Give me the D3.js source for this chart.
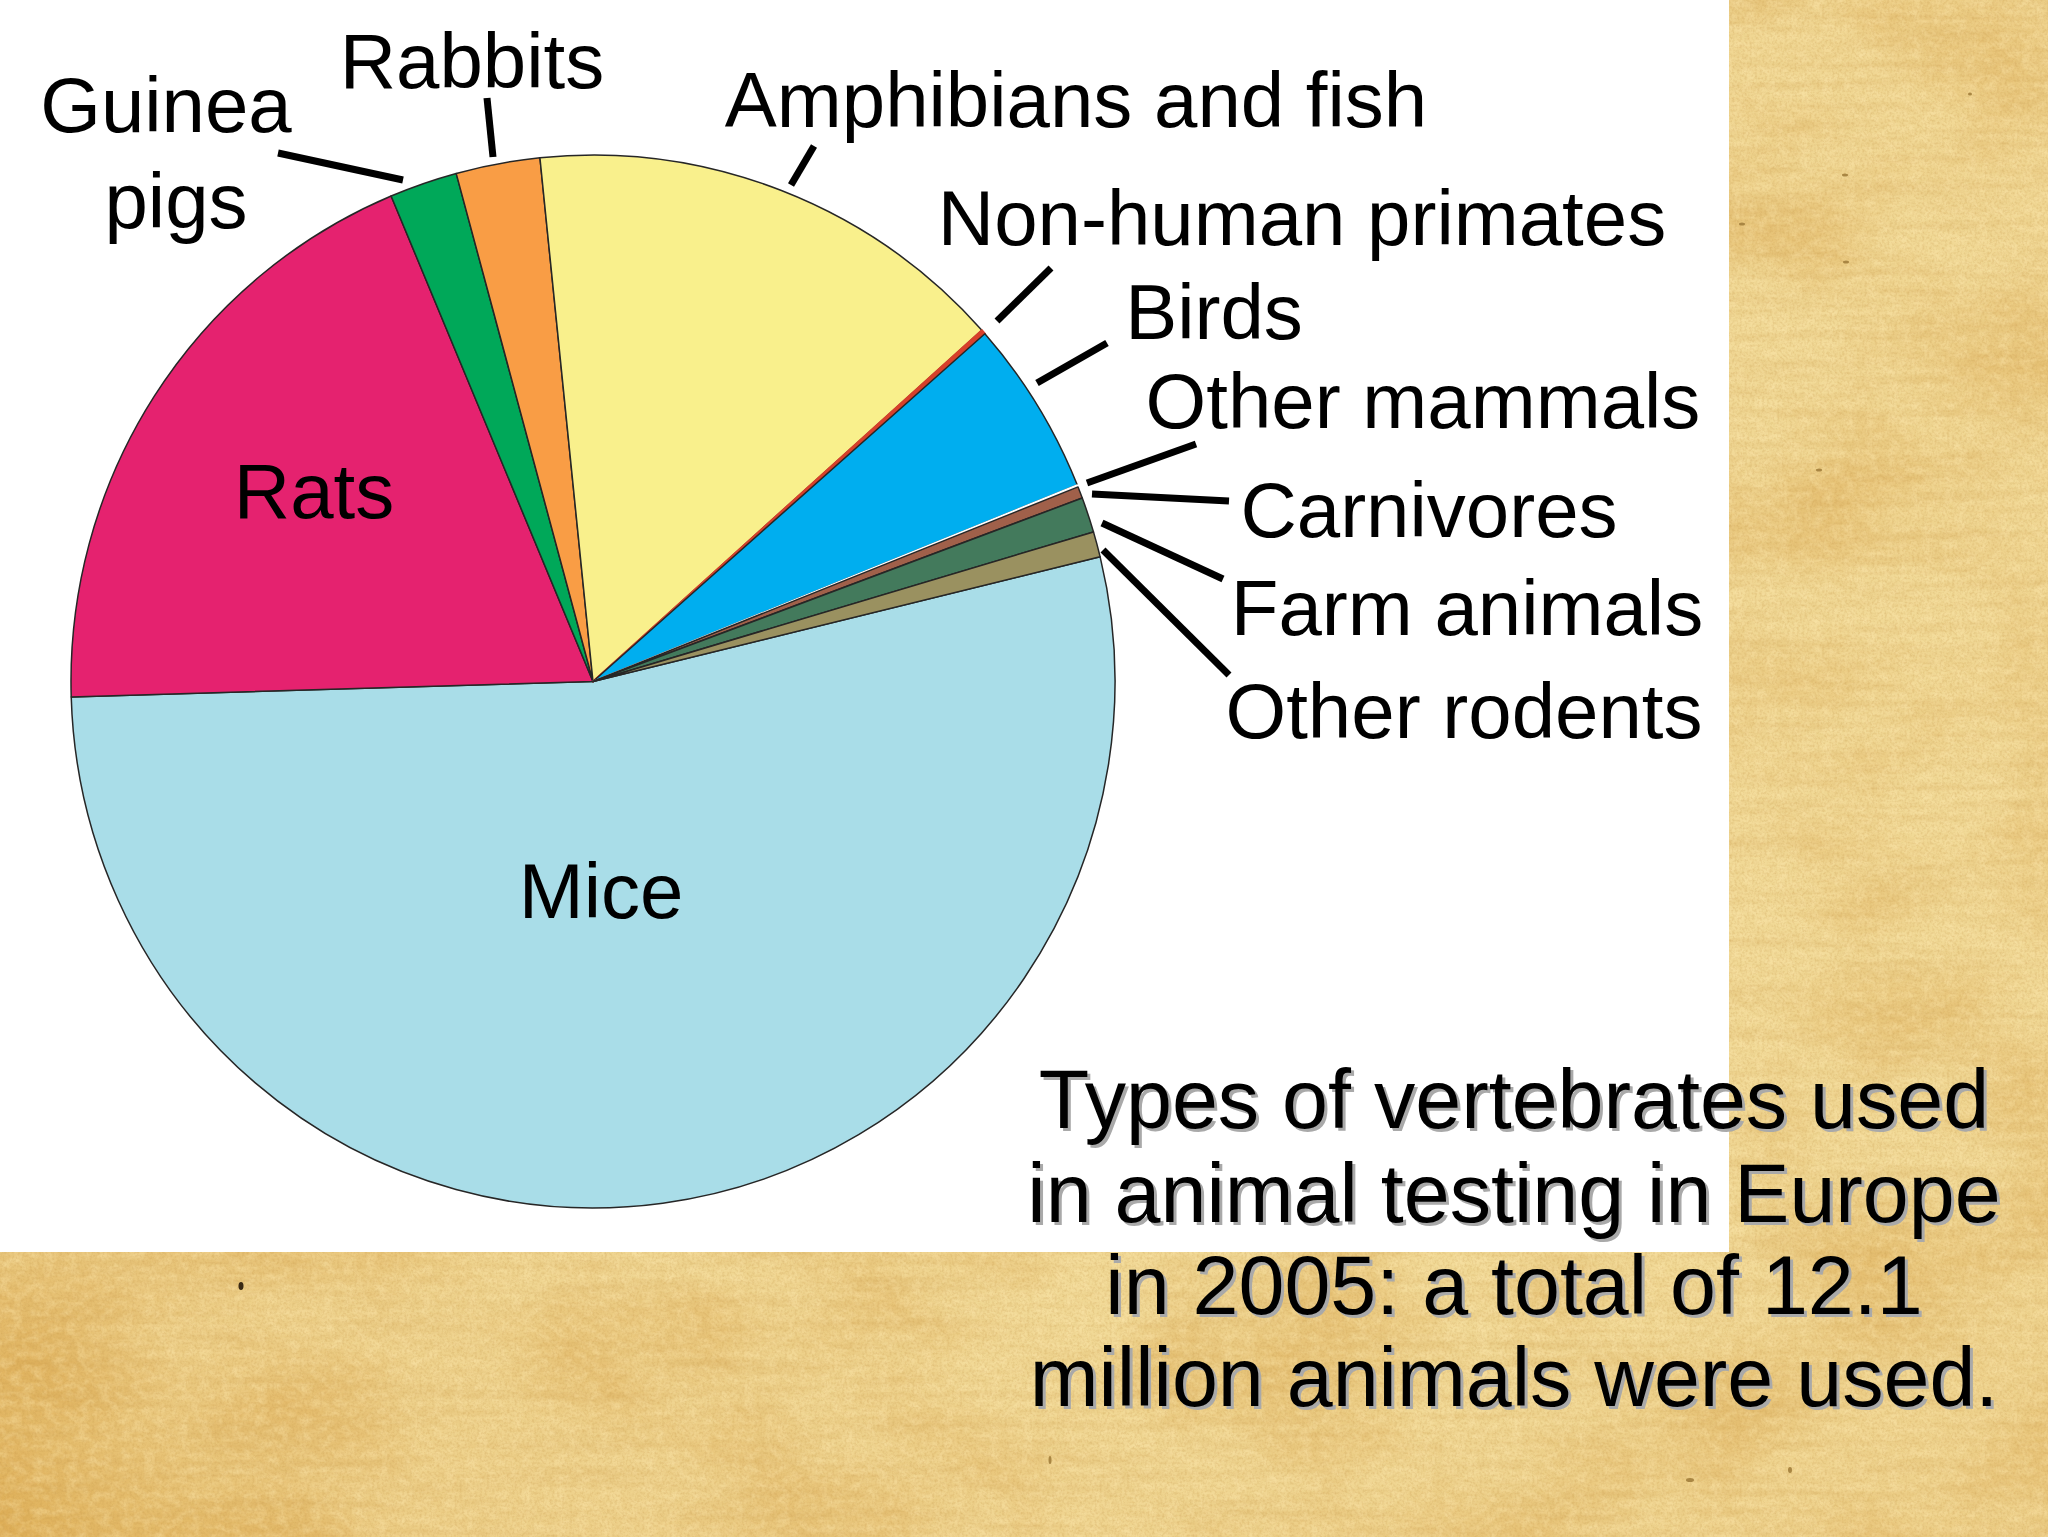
<!DOCTYPE html>
<html lang="en">
<head>
    <meta charset="utf-8" />
    <title>Types of vertebrates used in animal testing</title>
    <script src="https://cdnjs.cloudflare.com/ajax/libs/d3/7.8.5/d3.min.js"></script>
    <style>
        html, body { margin: 0; padding: 0; background: #e0c27c; }
        svg { display: block; }
        text { font-family: "Liberation Sans", Arial, sans-serif; fill: #000; }
    </style>
</head>
<body>
    <script>
        // share of animals (percent), clockwise from Mice
        var categories = ["Mice", "Rats", "Guinea pigs", "Rabbits", "Amphibians and fish", "Non-human primates", "Birds", "Other mammals", "Carnivores", "Farm animals", "Other rodents"];
        var shares = [53.35, 19.15, 2.1, 2.6, 15.0, 0.14, 5.4, 0.06, 0.36, 1.08, 0.78];
        var colours = ["#a9dde8", "#e5226f", "#00a859", "#f99d45", "#f9f08c", "#d7402b", "#00aeef", "#ffffff", "#a0604a", "#437a5c", "#9a9160"];

        var titleLines = ["Types of vertebrates used", "in animal testing in Europe", "in 2005: a total of 12.1", "million animals were used."];

        // label placement and leader lines, by hand like the original slide
        var labelPlacement = [
            { lines: [["Mice", 601, 918]] },
            { lines: [["Rats", 314, 518]] },
            { lines: [["Guinea", 166, 132], ["pigs", 176, 228]], leader: [403, 180, 278, 153] },
            { lines: [["Rabbits", 472, 88]], leader: [493, 157, 487, 98] },
            { lines: [["Amphibians and fish", 1076, 127]], leader: [791, 185, 814, 146] },
            { lines: [["Non-human primates", 1302, 245]], leader: [997, 321, 1051, 268] },
            { lines: [["Birds", 1214, 339]], leader: [1037, 383, 1107, 343] },
            { lines: [["Other mammals", 1423, 428]], leader: [1087, 483, 1196, 444] },
            { lines: [["Carnivores", 1429, 537]], leader: [1092, 494, 1229, 501] },
            { lines: [["Farm animals", 1467, 635]], leader: [1102, 523, 1223, 579] },
            { lines: [["Other rodents", 1464, 738]], leader: [1103, 550, 1229, 675] }
        ];

        var width = 2048, height = 1537;

        var svg = d3.select("body").append("svg")
            .attr("width", width)
            .attr("height", height);

        var defs = svg.append("defs");

        // old paper background: soft blotches, long fibres and fine grain over a warm gradient
        var paper = defs.append("filter").attr("id", "paper")
            .attr("x", 0).attr("y", 0).attr("width", "100%").attr("height", "100%")
            .attr("color-interpolation-filters", "sRGB");

        function noiseLayer(freq, seed, octaves, rgb, gain, offset, name) {
            paper.append("feTurbulence")
                .attr("type", "fractalNoise").attr("baseFrequency", freq)
                .attr("numOctaves", octaves).attr("seed", seed).attr("result", name + "n");
            paper.append("feColorMatrix").attr("in", name + "n").attr("type", "matrix")
                .attr("values", "0 0 0 0 " + rgb[0] + " 0 0 0 0 " + rgb[1] + " 0 0 0 0 " + rgb[2] + " " + gain + " 0 0 0 " + offset)
                .attr("result", name);
        }
        noiseLayer("0.005 0.007", 11, 4, [0.84, 0.62, 0.26], 0.9, -0.36, "blotch");
        noiseLayer("0.006 0.1", 5, 3, [0.82, 0.64, 0.32], 0.5, -0.2, "fibre");
        noiseLayer("0.09 0.12", 23, 3, [1, 0.92, 0.70], 0.8, -0.3, "mottle");
        noiseLayer("0.4", 3, 2, [0.76, 0.58, 0.28], 0.6, -0.24, "grain");

        var merge = paper.append("feMerge");
        ["SourceGraphic", "blotch", "fibre", "mottle", "grain"].forEach(function(n) {
            merge.append("feMergeNode").attr("in", n);
        });

        var warm = defs.append("radialGradient").attr("id", "warm")
            .attr("cx", 0.62).attr("cy", 0.45).attr("r", 0.85);
        warm.append("stop").attr("offset", 0.5).attr("stop-color", "#f1d996");
        warm.append("stop").attr("offset", 0.8).attr("stop-color", "#edcf88");
        warm.append("stop").attr("offset", 1).attr("stop-color", "#dcaa50");

        svg.append("rect")
            .attr("width", width).attr("height", height)
            .attr("fill", "url(#warm)")
            .attr("filter", "url(#paper)");

        // a few specks on the paper
        var specks = [[241, 1286, 2.5, 4], [1845, 175, 3, 1.5], [1846, 262, 3, 1.5], [1742, 224, 3, 1.5], [1819, 470, 3, 1.5], [1970, 94, 2, 1.5], [1690, 1480, 4, 2], [1790, 1470, 2, 3], [1050, 1460, 1.5, 4]];
        svg.append("g").selectAll("ellipse")
            .data(specks)
            .enter().append("ellipse")
            .attr("cx", function(d) { return d[0]; })
            .attr("cy", function(d) { return d[1]; })
            .attr("rx", function(d) { return d[2]; })
            .attr("ry", function(d) { return d[3]; })
            .attr("fill", function(d, i) { return i == 0 ? "#3a2a14" : "#a98643"; });

        svg.append("rect")
            .attr("width", 1729).attr("height", 1252)
            .attr("fill", "#ffffff");

        // pie, very slightly taller than wide as on the slide
        var cx = 593, cy = 681.5, radius = 522, stretchY = 526.5 / 522;

        var pie = d3.pie().sort(null)
            .startAngle(76.3 * Math.PI / 180)
            .endAngle((76.3 + 360) * Math.PI / 180);

        var arc = d3.arc().innerRadius(0).outerRadius(radius);

        var slices = pie(shares);

        function sliceStroke(d, i) {
            if (categories[i] == "Non-human primates") return colours[i];
            if (categories[i] == "Other mammals") return "#ffffff";
            return "#262626";
        }

        svg.append("g")
            .attr("transform", "translate(" + cx + "," + cy + ") scale(1," + stretchY + ")")
            .selectAll("path")
            .data(slices)
            .enter().append("path")
            .attr("d", arc)
            .attr("fill", function(d, i) { return colours[i]; })
            .attr("stroke", sliceStroke)
            .attr("stroke-width", function(d, i) { return categories[i] == "Non-human primates" ? 2 : 1.5; })
            .attr("stroke-linejoin", "round");

        // labels
        var labels = svg.append("g").attr("font-size", 78).attr("text-anchor", "middle");
        labelPlacement.forEach(function(p) {
            p.lines.forEach(function(l) {
                labels.append("text").attr("x", l[1]).attr("y", l[2]).text(l[0]);
            });
            if (p.leader) {
                labels.append("line")
                    .attr("x1", p.leader[0]).attr("y1", p.leader[1])
                    .attr("x2", p.leader[2]).attr("y2", p.leader[3])
                    .attr("stroke", "#000").attr("stroke-width", 7);
            }
        });

        // slide title with its grey shadow
        var title = svg.append("g").attr("font-size", 82.6).attr("text-anchor", "middle");
        var titleY = [1128, 1222, 1314, 1406];
        titleLines.forEach(function(line, i) {
            title.append("text").attr("x", 1514).attr("y", titleY[i])
                .attr("transform", "translate(3,3)").style("fill", "#a9a9a9").text(line);
        });
        titleLines.forEach(function(line, i) {
            title.append("text").attr("x", 1514).attr("y", titleY[i]).text(line);
        });
    </script>
</body>
</html>
